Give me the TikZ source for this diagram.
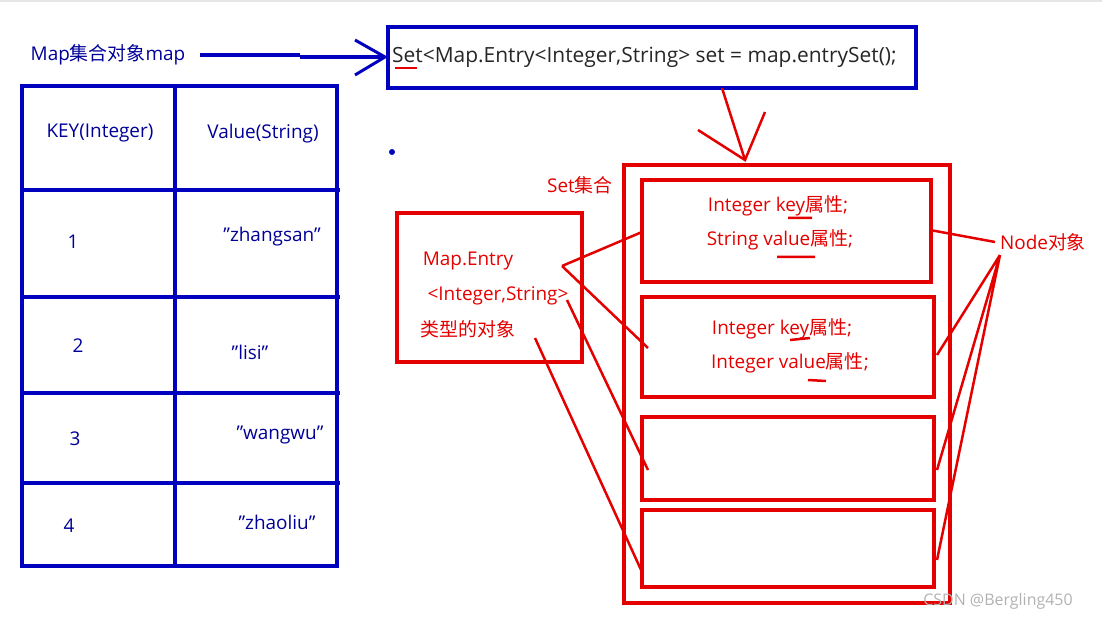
\documentclass[tikz,border=0pt]{standalone}
\usepackage{fontspec}
\setmainfont{Open Sans}
\newfontfamily\cjk{Noto Sans CJK SC}
\newcommand{\dq}{\symbol{34}}
\begin{document}
\begin{tikzpicture}[x=1bp,y=-1bp,
 bl/.style={draw=blue!75!black,line width=4bp},
 rd/.style={draw=red!90!black,line width=3.5bp},
 rl/.style={red!90!black,line width=2.5bp},
 t/.style={inner sep=0pt,font=\fontsize{19}{21}\selectfont},
 tb/.style={t,text=blue!60!black},
 tr/.style={t,text=red!90!black}]
\useasboundingbox[fill=white] (0,0) rectangle (1102,621);
\draw[gray!20,line width=3bp] (0,1)--(1102,1);
% top
\node[tb] (lab) at (108,55) {Map{\cjk 集合对象}map};
\draw[bl,line width=3.5bp] (200,55)--(300,55) (300,57)--(385,57);
\coordinate (ah) at (385,57);
\draw[bl,line width=3bp] (355,40)--(ah)--(355,75);
\draw[bl] (388,27) rectangle (916,88);
\node[t,anchor=west,font=\fontsize{21}{23}\selectfont,text=black!85] (code) at (392,57) {Set<Map.Entry<Integer,String> set = map.entrySet();};
\draw[rl] (395,68)--(417,68);
\fill[blue!75!black] (392,152) circle (3bp);
% table
\draw[bl] (22,86) rectangle (337,566);
\draw[bl] (175,86)--(175,566);
\foreach \y in {190,297,393,483} \draw[bl] (22,\y)--(340,\y);
\node[tb] (k) at (100,133) {KEY(Integer)};
\node[tb] (v) at (263,134) {Value(String)};
\node[tb] (k1) at (73,242) {1};
\node[tb] (v1) at (272,237) {\dq zhangsan\dq};
\node[tb] (k2) at (78,346) {2};
\node[tb] (v2) at (250,352) {\dq lisi\dq};
\node[tb] (k3) at (75,439) {3};
\node[tb] (v3) at (280,435) {\dq wangwu\dq};
\node[tb] (k4) at (69,526) {4};
\node[tb] (v4) at (277,522) {\dq zhaoliu\dq};
% arrow down
\draw[rl] (722,88)--(745,160);
\draw[rl] (698,130)--(745,160)--(765,112);
% set
\draw[rd] (624,165) rectangle (950,603);
\node[tr] (setl) at (580,185) {Set{\cjk 集合}};
\draw[rd] (642,180) rectangle (931,282);
\draw[rd] (642,297) rectangle (934,397);
\draw[rd] (642,417) rectangle (934,500);
\draw[rd] (642,510) rectangle (934,587);
\node[tr] (a1) at (778,206) {Integer key{\cjk 属性};};
\node[tr] (a2) at (780,240) {String value{\cjk 属性};};
\node[tr] (b1) at (782,329) {Integer key{\cjk 属性};};
\node[tr] (b2) at (790,363) {Integer value{\cjk 属性};};
\draw[rl] (788,218)--(812,218) (777,257)--(815,257) (790,340)--(810,338) (808,380)--(826,381);
% entry
\draw[rd] (397,213) rectangle (582,362);
\node[tr] (e1) at (468,261) {Map.Entry};
\node[tr] (e2) at (498,296) {<Integer,String>};
\node[tr] (e3) at (468,329) {\cjk 类型的对象};
\coordinate (ep) at (562,266);
\draw[rl] (ep)--(642,232) (ep)--(648,348) (567,300)--(648,470) (535,338)--(642,572);
% node
\node[tr] (nd) at (1043,242) {Node{\cjk 对象}};
\coordinate (np) at (1000,255);
\draw[rl] (995,242)--(930,230) (np)--(937,355) (np)--(937,470) (np)--(937,560);
\node[inner sep=0pt,text=gray!60,font=\fontsize{16}{18}\selectfont] (wm) at (998,601) {CSDN @Bergling450};
\end{tikzpicture}
\end{document}
